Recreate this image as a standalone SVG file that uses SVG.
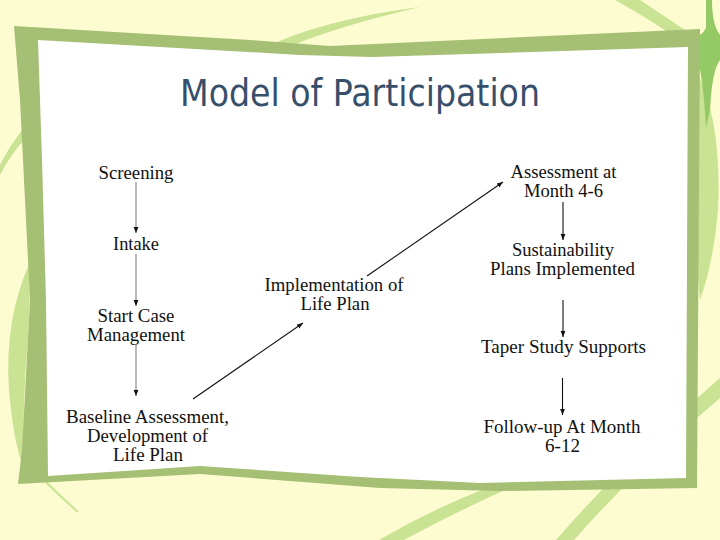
<svg xmlns="http://www.w3.org/2000/svg" width="720" height="540" viewBox="0 0 720 540">
<defs>
<style>
.lbl{font-family:"Liberation Serif","Times New Roman",serif;font-size:18px;fill:#111;text-anchor:middle}
.deco{fill:#C9E293}
.gl{stroke:#A8A8A8;stroke-width:1.6;fill:none}
.bl{stroke:#111;stroke-width:1.1;fill:none}
</style>
<marker id="ah" viewBox="0 0 10 10" refX="10" refY="5" markerWidth="6" markerHeight="7" orient="auto" markerUnits="userSpaceOnUse">
<path d="M0,1 L10,5 L0,9 Z" fill="#111"/>
</marker>
</defs>
<rect width="720" height="540" fill="#FDFCD0"/>
<g id="decor">
<path class="deco" d="M262,49 Q320,20 420,7 Q330,28 282,50 Z"/>
<path class="deco" d="M615,0 L640,0 Q670,20 700,40 L690,48 Q660,25 615,0 Z"/>
<path class="deco" d="M696,70 Q722,120 718,210 Q714,260 700,300 Q690,200 696,70 Z"/>
<path d="M706,0 L712,0 Q712,25 720,35 L720,60 Q712,70 710,110 L706,128 Q704,90 700,70 Q695,55 686,35 Q700,40 706,28 Z" fill="#94C965"/>
<path class="deco" d="M0,165 Q10,145 24,128 L26,138 Q12,152 0,175 Z"/>
<path class="deco" d="M30,262 Q4,320 9,390 Q13,440 24,470 Q22,400 28,340 Q30,300 30,262 Z"/>
<path class="deco" d="M487,488 L509,488 Q450,515 404,540 L379,540 Q430,510 487,488 Z"/>
<path class="deco" d="M720,378 L720,398 Q640,465 574,540 L556,540 Q630,455 720,378 Z"/>
<path d="M46,482 Q62,498 78,512" stroke="#C9E293" stroke-width="2" fill="none"/>
</g>
<g id="frame">
<path d="M14,26 L250,40 L330,46 L700,29 L697,488 L500,491 L380,488 L200,474 L18,484 L22,450 L30,300 L20,100 Z" fill="#A5BF75"/>
<path d="M38,40 L300,55 L372,57 L688,47 L686,478 L480,483 L360,477 L200,466 L48,476 L46,300 L42,160 Z" fill="#FFFFFF"/>
</g>
<g id="title">
<text x="360" y="106" font-family="'DejaVu Sans Condensed','DejaVu Sans',sans-serif" font-size="37" fill="#374F6B" text-anchor="middle" textLength="360" lengthAdjust="spacingAndGlyphs">Model of Participation</text>
</g>
<g id="connectors">
<line class="gl" x1="136" y1="182" x2="136" y2="233" marker-end="url(#ah)"/>
<line class="gl" x1="136" y1="254" x2="136" y2="306" marker-end="url(#ah)"/>
<line class="gl" x1="136" y1="345" x2="136" y2="396" marker-end="url(#ah)"/>
<line class="bl" x1="193" y1="399" x2="303" y2="323" marker-end="url(#ah)"/>
<line class="bl" x1="367" y1="276" x2="503" y2="182" marker-end="url(#ah)"/>
<line class="bl" x1="563" y1="202" x2="563" y2="240" marker-end="url(#ah)"/>
<line class="bl" x1="563" y1="300" x2="563" y2="337" marker-end="url(#ah)"/>
<line class="bl" x1="562.5" y1="378" x2="562.5" y2="415" marker-end="url(#ah)"/>
</g>
<g id="screening"><text class="lbl" x="136" y="179" textLength="75" lengthAdjust="spacingAndGlyphs">Screening</text></g>
<g id="intake"><text class="lbl" x="136" y="250" textLength="46" lengthAdjust="spacingAndGlyphs">Intake</text></g>
<g id="start-case"><text class="lbl" x="136" y="322" textLength="77" lengthAdjust="spacingAndGlyphs">Start Case</text><text class="lbl" x="136" y="341" textLength="98" lengthAdjust="spacingAndGlyphs">Management</text></g>
<g id="baseline"><text class="lbl" x="147.5" y="423" textLength="163" lengthAdjust="spacingAndGlyphs">Baseline Assessment,</text><text class="lbl" x="147.5" y="442" textLength="121" lengthAdjust="spacingAndGlyphs">Development of</text><text class="lbl" x="148" y="461" textLength="70" lengthAdjust="spacingAndGlyphs">Life Plan</text></g>
<g id="implementation"><text class="lbl" x="334" y="291" textLength="139" lengthAdjust="spacingAndGlyphs">Implementation of</text><text class="lbl" x="335" y="310" textLength="69" lengthAdjust="spacingAndGlyphs">Life Plan</text></g>
<g id="assessment"><text class="lbl" x="563.5" y="178" textLength="106" lengthAdjust="spacingAndGlyphs">Assessment at</text><text class="lbl" x="563.5" y="197" textLength="79" lengthAdjust="spacingAndGlyphs">Month 4-6</text></g>
<g id="sustainability"><text class="lbl" x="563" y="256" textLength="102" lengthAdjust="spacingAndGlyphs">Sustainability</text><text class="lbl" x="562.5" y="275" textLength="145" lengthAdjust="spacingAndGlyphs">Plans Implemented</text></g>
<g id="taper"><text class="lbl" x="563.5" y="353" textLength="165" lengthAdjust="spacingAndGlyphs">Taper Study Supports</text></g>
<g id="followup"><text class="lbl" x="562" y="433" textLength="157" lengthAdjust="spacingAndGlyphs">Follow-up At Month</text><text class="lbl" x="562.5" y="452" textLength="35" lengthAdjust="spacingAndGlyphs">6-12</text></g>
</svg>
